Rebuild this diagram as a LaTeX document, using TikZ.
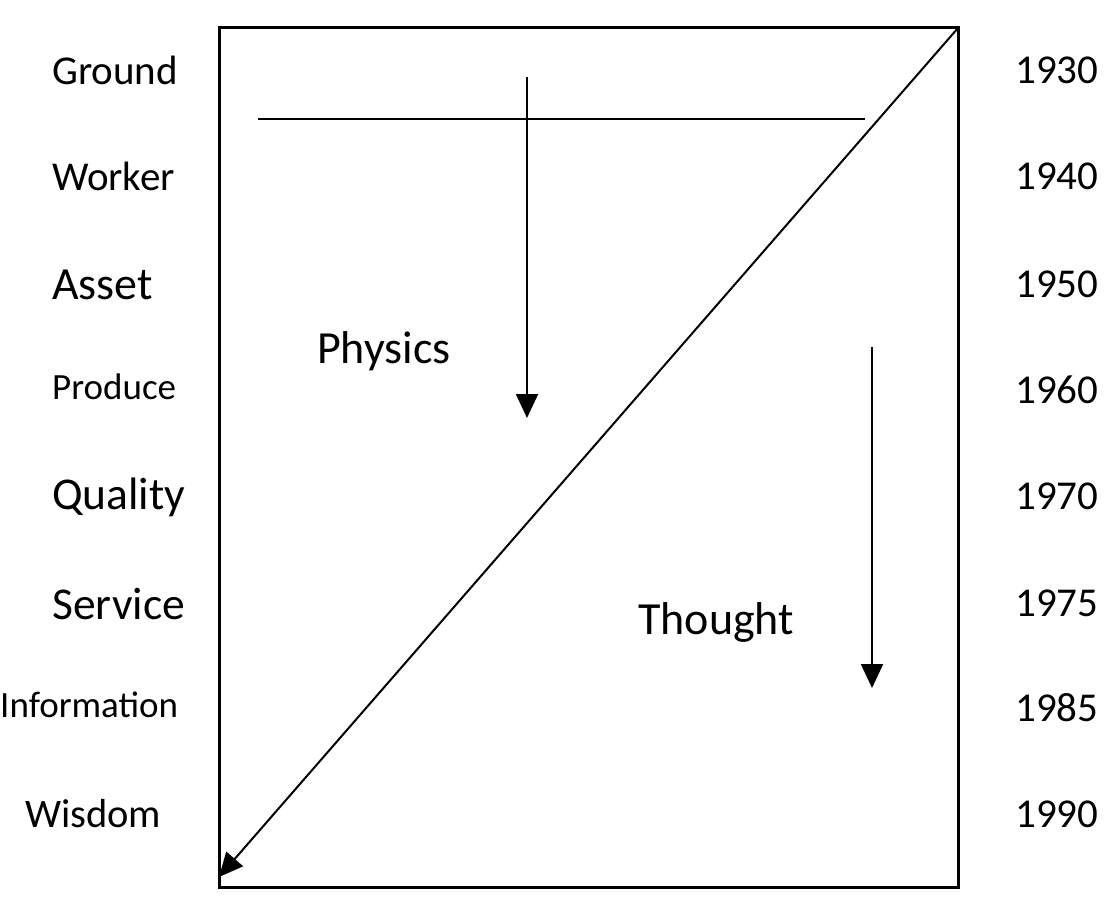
\documentclass[tikz,border=0pt]{standalone}
\usepackage{fontspec}
\setmainfont{Carlito}
\usetikzlibrary{arrows.meta}
\begin{document}
\begin{tikzpicture}[x=1pt,y=-1pt,
  ln/.style={line width=2pt},
  arr/.style={ln,-{Triangle[length=24pt,width=22pt]}},
  lab/.style={anchor=west,inner sep=0pt}]
\useasboundingbox (0,0) rectangle (1116,907);
\draw[line width=3pt] (219,28) rectangle (958,887);
\coordinate (tr) at (958,28);
\coordinate (bl) at (219,877);
\draw[arr] (tr) -- (bl);
\coordinate (h1) at (258,119); \coordinate (h2) at (865,119);
\draw[ln] (h1) -- (h2);
\coordinate (a1) at (527,77); \coordinate (a2) at (527,418);
\draw[arr] (a1) -- (a2);
\coordinate (b1) at (872,347); \coordinate (b2) at (872,688);
\draw[arr] (b1) -- (b2);
\node[lab,font=\fontsize{41}{41}\selectfont] (g) at (52,70) {Ground};
\node[lab,font=\fontsize{41}{41}\selectfont] (w) at (52,176) {Worker};
\node[lab,font=\fontsize{46}{46}\selectfont] (as) at (52,285) {Asset};
\node[lab,font=\fontsize{37}{37}\selectfont] (pr) at (52,387) {Produce};
\node[lab,font=\fontsize{45.5}{45.5}\selectfont] (q) at (52,497) {Quality};
\node[lab,font=\fontsize{45.5}{45.5}\selectfont] (s) at (52,604) {Service};
\node[lab,font=\fontsize{37}{37}\selectfont] (inf) at (0,705) {Information};
\node[lab,font=\fontsize{40.5}{40.5}\selectfont] (wi) at (25,814) {Wisdom};
\node[lab,font=\fontsize{46}{46}\selectfont] (ph) at (317,351) {Physics};
\node[lab,font=\fontsize{46}{46}\selectfont] (th) at (638,622) {Thought};
\foreach \y/\t in {70/1930,176/1940,284/1950,390/1960,496/1970,603/1975,708/1985,814/1990}
  \node[lab,font=\fontsize{41}{41}\selectfont] (y\t) at (1015,\y) {\t};
\end{tikzpicture}
\end{document}
